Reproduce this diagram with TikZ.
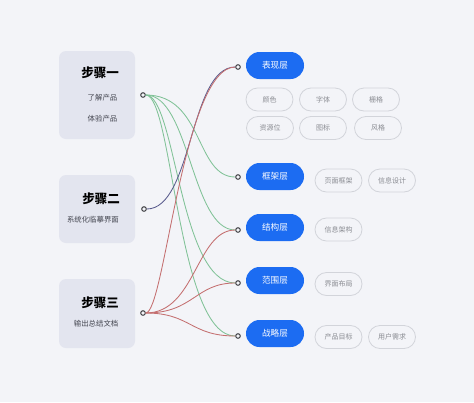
\documentclass[tikz,border=0pt]{standalone}
\usepackage{fontspec}
\setmainfont{Noto Sans CJK SC}
\newfontfamily\heavyfont{Noto Sans CJK SC Black}
\definecolor{bg}{HTML}{F3F4F8}
\definecolor{boxbg}{HTML}{E3E5EF}
\definecolor{pillblue}{HTML}{1C6CF2}
\definecolor{tagline}{HTML}{D2D4DA}
\definecolor{tagtext}{HTML}{8A8C92}
\definecolor{subtext}{HTML}{444650}
\definecolor{lgreen}{HTML}{80C297}
\definecolor{lred}{HTML}{C46F70}
\definecolor{lpurple}{HTML}{5A5C8E}
\definecolor{portc}{HTML}{2E2E33}
\tikzset{
  stepbox/.style={fill=boxbg, rounded corners=7pt, minimum width=76pt, inner sep=0pt},
  steptitle/.style={anchor=east, font=\fontsize{12.5}{13}\selectfont\heavyfont, text=black, inner sep=0pt},
  stepsub/.style={anchor=east, font=\fontsize{7.4}{8}\selectfont, text=subtext, inner sep=0pt},
  layer/.style={fill=pillblue, rounded corners=13.5pt, minimum width=58pt, minimum height=27pt, inner sep=0pt, text=white, font=\fontsize{8.6}{9}\selectfont},
  tag/.style={draw=tagline, line width=0.8pt, fill=bg, rounded corners=11.5pt, minimum width=47pt, minimum height=23pt, inner sep=0pt, text=tagtext, font=\fontsize{7}{8}\selectfont},
  port/.style={circle, draw=portc, line width=0.9pt, fill=bg, minimum size=4.6pt, inner sep=0pt},
  link/.style={line width=0.85pt},
}
\begin{document}
\begin{tikzpicture}[x=1pt,y=-1pt]
\fill[bg] (0,0) rectangle (474,402);
\useasboundingbox (0,0) rectangle (474,402);
% left boxes
\node[stepbox, minimum height=88pt] (s1) at (97,95) {};
\node[stepbox, minimum height=68pt] (s2) at (97,209) {};
\node[stepbox, minimum height=69pt] (s3) at (97,313.5) {};
\node[steptitle] (s1t) at (119,73) {步骤一};
\node[stepsub] (s1a) at (117.5,98) {了解产品};
\node[stepsub] (s1b) at (117.5,118.5) {体验产品};
\node[steptitle] (s2t) at (120,199) {步骤二};
\node[stepsub] (s2a) at (119,219.5) {系统化临摹界面};
\node[steptitle] (s3t) at (119,302.5) {步骤三};
\node[stepsub] (s3a) at (118.5,324) {输出总结文档};
% layers
\node[layer] (l1) at (275,65.5) {表现层};
\node[layer] (l2) at (275,176.5) {框架层};
\node[layer] (l3) at (275,227.5) {结构层};
\node[layer] (l4) at (275,280.5) {范围层};
\node[layer] (l5) at (275,333.5) {战略层};
% tags
\node[tag] (t1) at (269.5,99.5) {颜色};
\node[tag] (t2) at (323,99.5) {字体};
\node[tag] (t3) at (376,99.5) {栅格};
\node[tag] (t4) at (270,128) {资源位};
\node[tag] (t5) at (323,128) {图标};
\node[tag] (t6) at (378,128) {风格};
\node[tag] (t7) at (338.5,180.5) {页面框架};
\node[tag] (t8) at (392,180.5) {信息设计};
\node[tag] (t9) at (338.5,229.5) {信息架构};
\node[tag] (t10) at (338.5,284) {界面布局};
\node[tag] (t11) at (338.5,337) {产品目标};
\node[tag] (t12) at (392,337) {用户需求};
% ports
\node[port] (p1) at (143,95) {};
\node[port] (p2) at (144,209) {};
\node[port] (p3) at (143,313) {};
\node[port] (q1) at (238,67) {};
\node[port] (q2) at (238,177) {};
\node[port] (q3) at (238,230) {};
\node[port] (q4) at (238,283) {};
\node[port] (q5) at (238,336) {};
% links
\draw[link, lgreen] (p1.east) .. controls +(58,0) and +(-40,0) .. (q2.west);
\draw[link, lgreen] (p1.east) .. controls +(44,0) and +(-44,0) .. (q3.west);
\draw[link, lgreen] (p1.east) .. controls +(30,0) and +(-56,0) .. (q4.west);
\draw[link, lgreen] (p1.east) .. controls +(27,0) and +(-58,0) .. (q5.west);
\draw[link, lpurple] (p2.east) .. controls +(46,0) and +(-46,0) .. (q1.west);
\draw[link, lred] (p3.east) .. controls +(19,0) and +(-52,0) .. (q1.west);
\draw[link, lred] (p3.east) .. controls +(50,0) and +(-39,0) .. (q3.west);
\draw[link, lred] (p3.east) .. controls +(48,0) and +(-40,0) .. (q4.west);
\draw[link, lred] (p3.east) .. controls +(45,0) and +(-45,0) .. (q5.west);
\end{tikzpicture}
\end{document}
